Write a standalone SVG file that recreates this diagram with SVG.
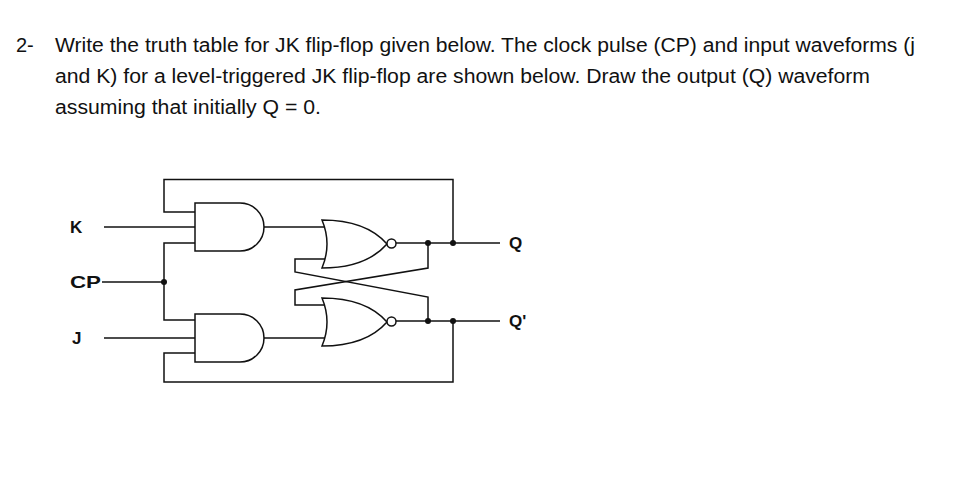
<svg xmlns="http://www.w3.org/2000/svg" width="965" height="481" viewBox="0 0 965 481">
<style>
.t{font-family:"Liberation Sans",Arial,sans-serif;font-size:20px;fill:#111}
.l{font-family:"Liberation Sans",Arial,sans-serif;font-size:17px;font-weight:bold;fill:#111}
.w{fill:none;stroke:#111;stroke-width:1.5}
.g{fill:#fff;stroke:#111;stroke-width:1.5}
</style>
<rect width="965" height="481" fill="#fff"/>
<text class="t" x="16" y="52">2-</text>
<text class="t" x="55" y="52" textLength="860" lengthAdjust="spacingAndGlyphs">Write the truth table for JK flip-flop given below. The clock pulse (CP) and input waveforms (j</text>
<text class="t" x="55" y="83" textLength="815" lengthAdjust="spacingAndGlyphs">and K) for a level-triggered JK flip-flop are shown below. Draw the output (Q) waveform</text>
<text class="t" x="55" y="114" textLength="266" lengthAdjust="spacingAndGlyphs">assuming that initially Q = 0.</text>
<g id="connectors" class="w">
<path d="M195,212 H164 V179.5 H453 V243"/>
<path d="M104,227 H195"/>
<path d="M195,243 H164 V320 H195"/>
<path d="M102,282 H164"/>
<path d="M104,338 H195"/>
<path d="M195,353 H164 V382 H453 V321"/>
<path d="M263,227 H327"/>
<path d="M263,338 H327"/>
<path d="M396,243 H500"/>
<path d="M396,321 H500"/>
<path d="M428,243 V268 L295,290 V305 H327"/>
<path d="M428,321 V297 L295,272 V259 H327"/>
</g>
<g id="and1"><path class="g" d="M195,203 H240 A24,24 0 0 1 240,251 H195 Z"/></g>
<g id="and2"><path class="g" d="M195,314 H240 A24,24 0 0 1 240,362 H195 Z"/></g>
<g id="nor1"><path class="g" d="M322,220 Q332,244 322,268 Q366,268 387,244 Q366,220 322,220 Z"/><circle class="g" cx="391.5" cy="243.5" r="4.5"/></g>
<g id="nor2"><path class="g" d="M322,298 Q332,322 322,346 Q366,346 387,322 Q366,298 322,298 Z"/><circle class="g" cx="391.5" cy="321.5" r="4.5"/></g>
<g id="dots" fill="#111">
<circle cx="164" cy="282" r="3"/>
<circle cx="428" cy="243" r="3"/><circle cx="453" cy="243" r="3"/>
<circle cx="428" cy="321" r="3"/><circle cx="453" cy="321" r="3"/>
</g>
<g id="labels">
<text class="l" x="70" y="233">K</text>
<text class="l" x="70" y="288" textLength="31" lengthAdjust="spacingAndGlyphs">CP</text>
<text class="l" x="72" y="344">J</text>
<text class="l" x="509" y="249">Q</text>
<text class="l" x="509" y="327">Q'</text>
</g>
</svg>
